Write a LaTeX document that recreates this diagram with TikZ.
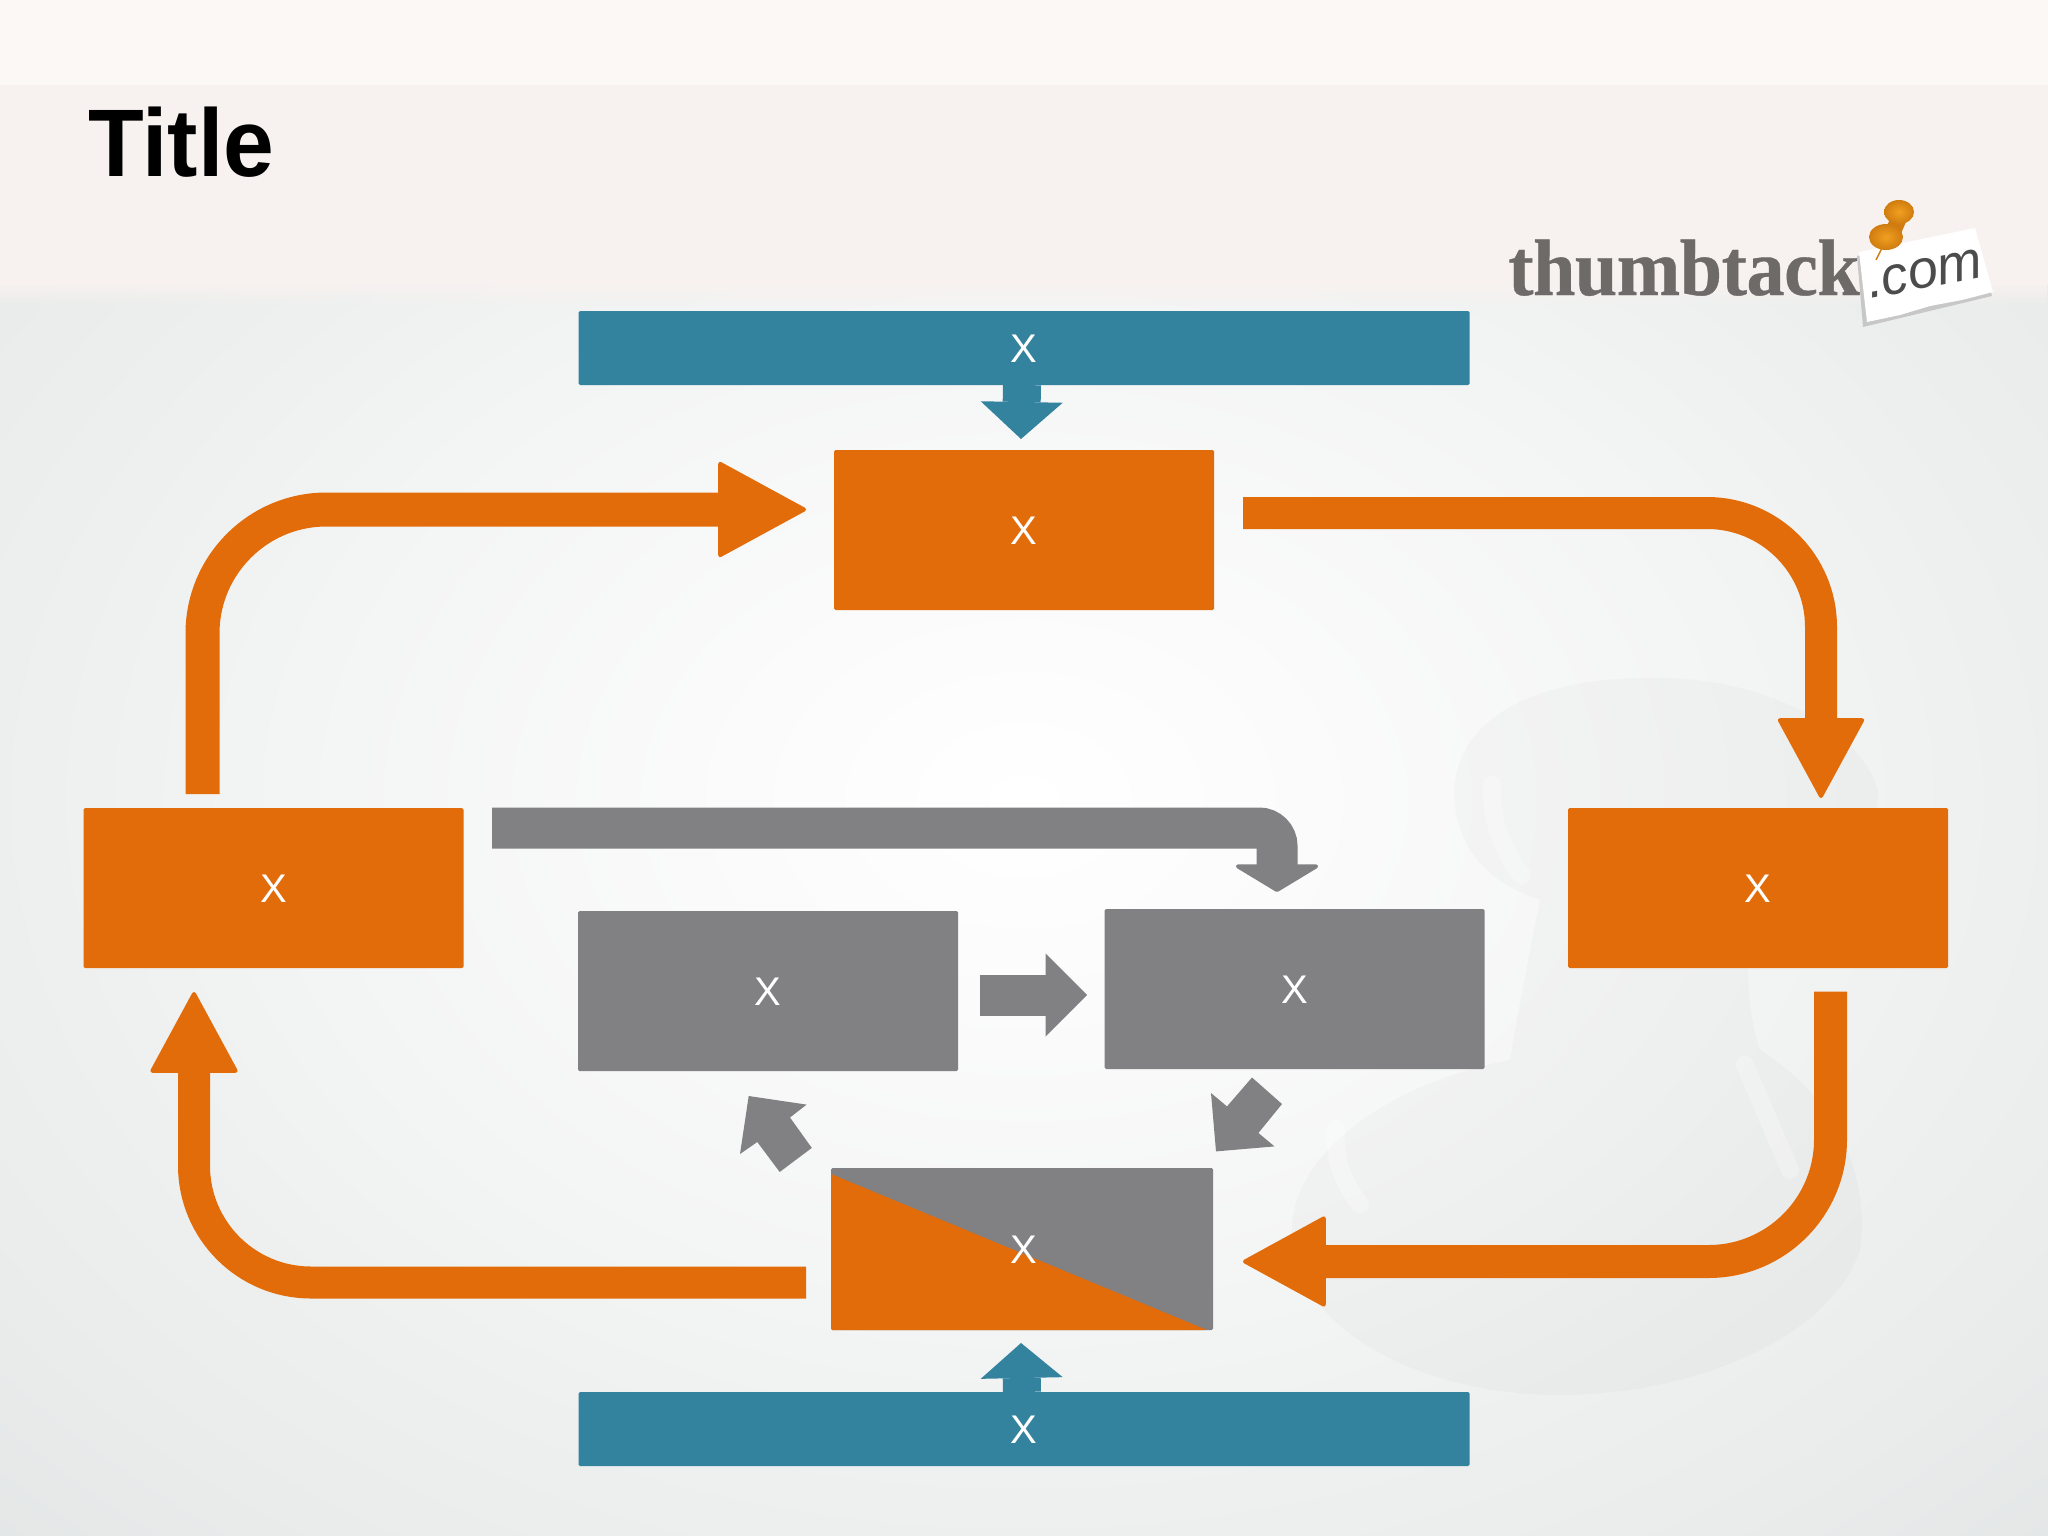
\documentclass[tikz,border=0pt]{standalone}
\usepackage{fontspec}
\setmainfont{Liberation Sans}
\newfontfamily\logofont[FakeStretch=0.95,LetterSpace=-0.5,FakeBold=0.5]{Liberation Serif}
\newfontfamily\handfont{Liberation Sans}
\newfontfamily\titlefont[FakeStretch=0.95]{Liberation Sans}
\usetikzlibrary{arrows.meta,fadings,calc}
\definecolor{cOrange}{HTML}{E36C0A}
\definecolor{cTeal}{HTML}{33839E}
\definecolor{cGray}{HTML}{818082}
\definecolor{cBandA}{HTML}{FBF8F6}
\definecolor{cBandB}{HTML}{F7F2F0}
\definecolor{cLogo}{HTML}{6E6A68}
\definecolor{cPin}{HTML}{F0A020}
\definecolor{cPinD}{HTML}{D07C10}
\definecolor{bgA}{HTML}{FFFFFF}
\definecolor{bgB}{HTML}{FBFBFC}
\definecolor{bgC}{HTML}{F3F4F4}
\definecolor{bgD}{HTML}{E9ECEB}
\definecolor{bgE}{HTML}{DEE1E1}
\pgfdeclareradialshading{bgshade}{\pgfpoint{0bp}{0bp}}{
  color(0bp)=(bgA); color(7bp)=(bgB); color(18bp)=(bgC); color(30bp)=(bgD); color(42bp)=(bgE); color(71bp)=(bgE)}
\tikzset{
  box/.style={rectangle,rounded corners=1.5pt,inner sep=0pt,text=white,
    font=\fontsize{40}{40}\selectfont,text height=28.6pt,text depth=0pt},
  orangebox/.style={box,fill=cOrange,minimum width=380pt,minimum height=160pt},
  graybox/.style={box,fill=cGray,minimum width=380pt,minimum height=160pt},
  tealbar/.style={box,fill=cTeal,minimum width=891pt,minimum height=74pt},
  grayshape/.style={fill=cGray}
}
\newcommand{\headtip}[2]{-{Triangle[length=#1pt,width=#2pt,line width=0pt]}}
\newcommand{\headround}[2]{-{Triangle[length=#1pt,width=#2pt,round,line width=4pt]}}
\begin{document}
\begin{tikzpicture}[x=1pt,y=-1pt]
\useasboundingbox (0,0) rectangle (2048,1536);
% background
\shade[shading=bgshade] (0,64) rectangle (2048,1536);
\fill[black,opacity=.02] (1454,790) .. controls (1460,700) and (1570,675) .. (1665,678)
  .. controls (1770,680) and (1860,730) .. (1878,790)
  .. controls (1880,860) and (1790,900) .. (1750,930)
  .. controls (1745,980) and (1750,1020) .. (1760,1050)
  .. controls (1840,1100) and (1870,1180) .. (1860,1250)
  .. controls (1830,1340) and (1690,1395) .. (1560,1395)
  .. controls (1420,1395) and (1300,1330) .. (1292,1240)
  .. controls (1285,1150) and (1400,1080) .. (1510,1060)
  .. controls (1520,1000) and (1530,950) .. (1540,900)
  .. controls (1480,880) and (1454,840) .. (1454,790) -- cycle;
\draw[white,opacity=.3,line width=18pt,line cap=round] (1492,785) .. controls (1490,830) and (1510,860) .. (1522,875);
\draw[white,opacity=.3,line width=18pt,line cap=round] (1336,1128) .. controls (1334,1165) and (1345,1185) .. (1360,1204);
\draw[white,opacity=.25,line width=18pt,line cap=round] (1745,1065) -- (1790,1170);
% top band
\fill[cBandB] (0,85) rectangle (2048,285);
\fill[cBandA] (0,0) rectangle (2048,85);
\fill[cBandB,path fading=south] (0,283) rectangle (2048,306);
% logo
\node[anchor=base west,inner sep=0pt,text=cLogo,font=\logofont\bfseries\fontsize{80}{80}\selectfont] (logo) at (1508,295) {thumbtack};
\fill[black!22] (1857,256) -- (1863,327) -- (1992,296) -- (1975,232) -- cycle;
\fill[white] (1859,252) -- (1975,228) -- (1993,292) -- (1962,300) -- (1930,306) -- (1900,315) -- (1867,322) -- cycle;
\draw[cPinD,line width=1.5pt] (1882,248) -- (1876,260);
\fill[cPinD] (1891,218) -- (1906,222) -- (1899,238) -- (1882,234) -- cycle;
\shade[inner color=cPin,outer color=cPinD] (1899,212) ellipse [x radius=15pt,y radius=12pt];
\shade[inner color=cPin,outer color=cPinD] (1886,237) ellipse [x radius=17pt,y radius=13pt];
\node[anchor=base west,inner sep=0pt,rotate=11,text=black!70,font=\handfont\itshape\fontsize{54}{54}\selectfont] (logocom) at (1870,299) {.com};
% title
\node[anchor=base west,inner sep=0pt,font=\titlefont\bfseries\fontsize{96}{96}\selectfont] (title) at (88,176) {Title};
% boxes
\node[tealbar] (topbar) at (1024,348) {X};
\node[tealbar] (botbar) at (1024,1429) {X};
\node[orangebox] (topbox) at (1024,530) {X};
\node[orangebox] (leftbox) at (273.5,888) {X};
\node[orangebox] (rightbox) at (1758,888) {X};
\node[graybox] (grayA) at (768,991) {X};
\node[graybox] (grayB) at (1294.5,989) {X};
\node[graybox,minimum width=382pt,minimum height=162pt,
  path picture={\fill[cOrange] ($(path picture bounding box.north west)+(0,6)$)
    -- ($(path picture bounding box.south east)+(-6,0)$)
    -- (path picture bounding box.south west) -- cycle;}] (split) at (1022,1249) {\hspace*{4pt}X};
% teal connectors
\coordinate (t1s) at (1022,385); \coordinate (t1e) at (1021,439);
\draw[cTeal,line width=38pt,\headtip{37}{82}] (t1s) -- (t1e);
\coordinate (t2s) at (1022,1392); \coordinate (t2e) at (1021,1343);
\draw[cTeal,line width=38pt,\headtip{35}{82}] (t2s) -- (t2e);
% orange connectors
\coordinate (a1s) at (1243,513); \coordinate (a1c) at (1821,513); \coordinate (a1e) at (1821,798);
\draw[cOrange,line width=32pt,rounded corners=114pt,\headround{82}{88}] (a1s) -- (a1c) -- (a1e);
\coordinate (a2s) at (1830.5,991.5); \coordinate (a2c) at (1830.5,1261.5); \coordinate (a2e) at (1243,1261.5);
\draw[cOrange,line width=33pt,rounded corners=122pt,\headround{85}{92}] (a2s) -- (a2c) -- (a2e);
\coordinate (a3s) at (806,1282.5); \coordinate (a3c) at (194,1282.5); \coordinate (a3e) at (194,992);
\draw[cOrange,line width=32pt,rounded corners=117pt,\headround{83}{89}] (a3s) -- (a3c) -- (a3e);
\coordinate (a4s) at (202.5,794); \coordinate (a4c) at (202.5,509.5); \coordinate (a4e) at (806,509.5);
\draw[cOrange,line width=34pt,rounded corners=124pt,\headround{90}{97}] (a4s) -- (a4c) -- (a4e);
% gray connectors
\coordinate (g1s) at (492,828); \coordinate (g1c) at (1277,828); \coordinate (g1e) at (1277,892);
\draw[cGray,line width=41pt,rounded corners=18pt,\headround{28}{92}] (g1s) -- (g1c) -- (g1e);
\coordinate (g2s) at (979.5,995); \coordinate (g2e) at (1087,995);
\draw[cGray,line width=41pt,\headtip{41.5}{83}] (g2s) -- (g2e);
\fill[grayshape] (1252,1077.5) -- (1282,1104) -- (1258.4,1133) -- (1274.5,1146.4) -- (1216,1151.4) -- (1211,1093) -- (1227,1106.4) -- cycle;
\fill[grayshape] (748.7,1096) -- (806.6,1104.6) -- (790,1117.5) -- (811.8,1147.9) -- (779.7,1172) -- (757.3,1142) -- (740,1154) -- cycle;
\end{tikzpicture}
\end{document}
